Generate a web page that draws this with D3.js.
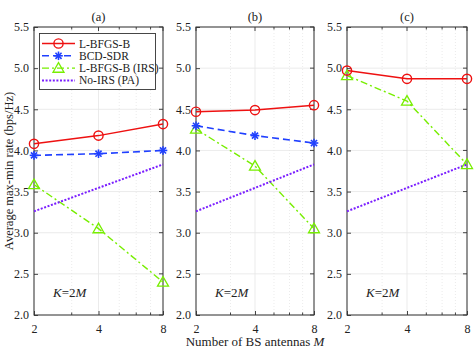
<!DOCTYPE html>
<html><head><meta charset="utf-8">
<script src="https://cdn.jsdelivr.net/npm/d3@7"></script>
<style>body{margin:0;background:#fff}svg{display:block}</style>
</head><body><svg id="c" width="474" height="355"></svg>
<script>
const antennas = [2, 4, 8];
const panelTitles = ["(a)", "(b)", "(c)"];
const seriesNames = ["L-BFGS-B", "BCD-SDR", "L-BFGS-B (IRS)", "No-IRS (PA)"];
const lbfgsA = [4.08, 4.18, 4.32];
const bcdA   = [3.94, 3.96, 4.00];
const irsA   = [3.585, 3.05, 2.40];
const paA    = [3.26, 3.545, 3.83];
const lbfgsB = [4.47, 4.49, 4.55];
const bcdB   = [4.30, 4.18, 4.09];
const irsB   = [4.26, 3.81, 3.05];
const paB    = [3.26, 3.545, 3.83];
const lbfgsC = [4.97, 4.87, 4.87];
const irsC   = [4.91, 4.60, 3.83];
const paC    = [3.26, 3.545, 3.83];
const yTicks = [2.0, 2.5, 3.0, 3.5, 4.0, 4.5, 5.0, 5.5];
const xMinor = [3, 5, 6, 7];

const panelData = [
  [lbfgsA, bcdA, irsA, paA],
  [lbfgsB, bcdB, irsB, paB],
  [lbfgsC, null, irsC, paC]
];
const styles = [
  {color:"#ee1111", dash:null, w:1.5, marker:"circle"},
  {color:"#2040ff", dash:"7,4", w:1.6, marker:"star"},
  {color:"#77ee00", dash:"7,3,2,3", w:1.4, marker:"tri"},
  {color:"#7a1dff", dash:"2,1.6", w:2, marker:null}
];
const panels = [{l:34,r:163},{l:196,r:314},{l:347,r:467}];
const topY = 27, bottomY = 315;
const FONT = "'Liberation Serif', 'DejaVu Serif', serif";
const svg = d3.select("#c");
const y = d3.scaleLinear().domain([2,5.5]).range([bottomY, topY]);

function drawMarker(g, type, cx, cy, color){
  if(type==="circle"){
    g.append("circle").attr("cx",cx).attr("cy",cy).attr("r",4.6).attr("fill","none").attr("stroke",color).attr("stroke-width",1.4);
  } else if(type==="star"){
    const r=4.3;
    for(let k=0;k<4;k++){
      const a=k*Math.PI/4;
      g.append("line").attr("x1",cx-r*Math.cos(a)).attr("y1",cy-r*Math.sin(a)).attr("x2",cx+r*Math.cos(a)).attr("y2",cy+r*Math.sin(a)).attr("stroke",color).attr("stroke-width",1.6);
    }
  } else if(type==="tri"){
    const s=5.5;
    g.append("path").attr("d",`M${cx},${cy-s}L${cx+s},${cy+s*0.75}L${cx-s},${cy+s*0.75}Z`).attr("fill","none").attr("stroke",color).attr("stroke-width",1.3);
  }
}

panels.forEach((p,i)=>{
  const x = d3.scaleLog().domain([2,8]).range([p.l,p.r]);
  const g = svg.append("g");
  yTicks.forEach(t=>{ g.append("line").attr("x1",p.l).attr("x2",p.r).attr("y1",y(t)).attr("y2",y(t)).attr("stroke","#e6e6e6").attr("stroke-width",0.8); });
  antennas.forEach(t=>{ g.append("line").attr("x1",x(t)).attr("x2",x(t)).attr("y1",topY).attr("y2",bottomY).attr("stroke","#e6e6e6").attr("stroke-width",0.8); });
  xMinor.forEach(t=>{ g.append("line").attr("x1",x(t)).attr("x2",x(t)).attr("y1",topY).attr("y2",bottomY).attr("stroke","#e2e2e2").attr("stroke-width",0.7).attr("stroke-dasharray","1,2"); });
  const ax = g.append("g").attr("transform",`translate(0,${bottomY})`).call(d3.axisBottom(x).tickValues(antennas).tickFormat(d3.format("d")).tickSizeInner(-4).tickSizeOuter(0).tickPadding(9));
  const ay = g.append("g").attr("transform",`translate(${p.l},0)`).call(d3.axisLeft(y).tickValues(yTicks).tickFormat(d3.format(".1f")).tickSizeInner(-4).tickSizeOuter(0).tickPadding(5));
  [ax,ay].forEach(a=>{ a.attr("font-family",FONT); a.select(".domain").remove(); a.selectAll("text").style("font-size","12px").attr("fill","#333"); a.selectAll("line").attr("stroke","#444"); });
  xMinor.forEach(t=>{ g.append("line").attr("x1",x(t)).attr("x2",x(t)).attr("y1",bottomY).attr("y2",bottomY-2.5).attr("stroke","#444"); g.append("line").attr("x1",x(t)).attr("x2",x(t)).attr("y1",topY).attr("y2",topY+2.5).attr("stroke","#444"); });
  antennas.forEach(t=>{ g.append("line").attr("x1",x(t)).attr("x2",x(t)).attr("y1",topY).attr("y2",topY+4).attr("stroke","#444"); });
  yTicks.forEach(t=>{ g.append("line").attr("x1",p.r).attr("x2",p.r-4).attr("y1",y(t)).attr("y2",y(t)).attr("stroke","#444"); });
  g.append("rect").attr("x",p.l).attr("y",topY).attr("width",p.r-p.l).attr("height",bottomY-topY).attr("fill","none").attr("stroke","#333").attr("stroke-width",1);
  g.append("text").attr("x",(p.l+p.r)/2).attr("y",21).attr("text-anchor","middle").style("font-size","12.5px").text(panelTitles[i]);
  const line = d3.line().x((d,j)=>x(antennas[j])).y(d=>y(d));
  panelData[i].forEach((vals,s)=>{
    if(!vals) return;
    const st = styles[s];
    g.append("path").attr("d",line(vals)).attr("fill","none").attr("stroke",st.color).attr("stroke-width",st.w).attr("stroke-dasharray",st.dash);
  });
  [2,1,0].forEach(s=>{
    const vals = panelData[i][s]; if(!vals) return;
    vals.forEach((v,j)=>drawMarker(g, styles[s].marker, x(antennas[j]), y(v), styles[s].color));
  });
  const kt = g.append("text").attr("x",p.l+19).attr("y",297).style("font-size","13px").style("font-style","italic");
  kt.append("tspan").text("K");
  kt.append("tspan").style("font-style","normal").text("=2");
  kt.append("tspan").text("M");
});

const lg = svg.append("g");
lg.append("rect").attr("x",39.5).attr("y",33.5).attr("width",116).attr("height",56).attr("fill","#fff").attr("stroke","#333").attr("stroke-width",0.9);
seriesNames.forEach((n,i)=>{
  const yy = 43.5 + i*12.3;
  const st = styles[i];
  lg.append("line").attr("x1",42).attr("x2",75).attr("y1",yy).attr("y2",yy).attr("stroke",st.color).attr("stroke-width",st.w).attr("stroke-dasharray",st.dash);
  if(st.marker) drawMarker(lg, st.marker, 58.5, yy, st.color);
  lg.append("text").attr("x",79).attr("y",yy+4).style("font-size","11.5px").text(n);
});

svg.append("text").attr("transform","translate(13,171) rotate(-90)").attr("text-anchor","middle").style("font-size","12.5px").text("Average max-min rate (bps/Hz)");
const xl = svg.append("text").attr("x",255).attr("y",346).attr("text-anchor","middle").style("font-size","13px");
xl.append("tspan").text("Number of BS antennas ");
xl.append("tspan").style("font-style","italic").text("M");

svg.selectAll("text").style("font-family",FONT).style("fill","#222");
</script></body></html>
